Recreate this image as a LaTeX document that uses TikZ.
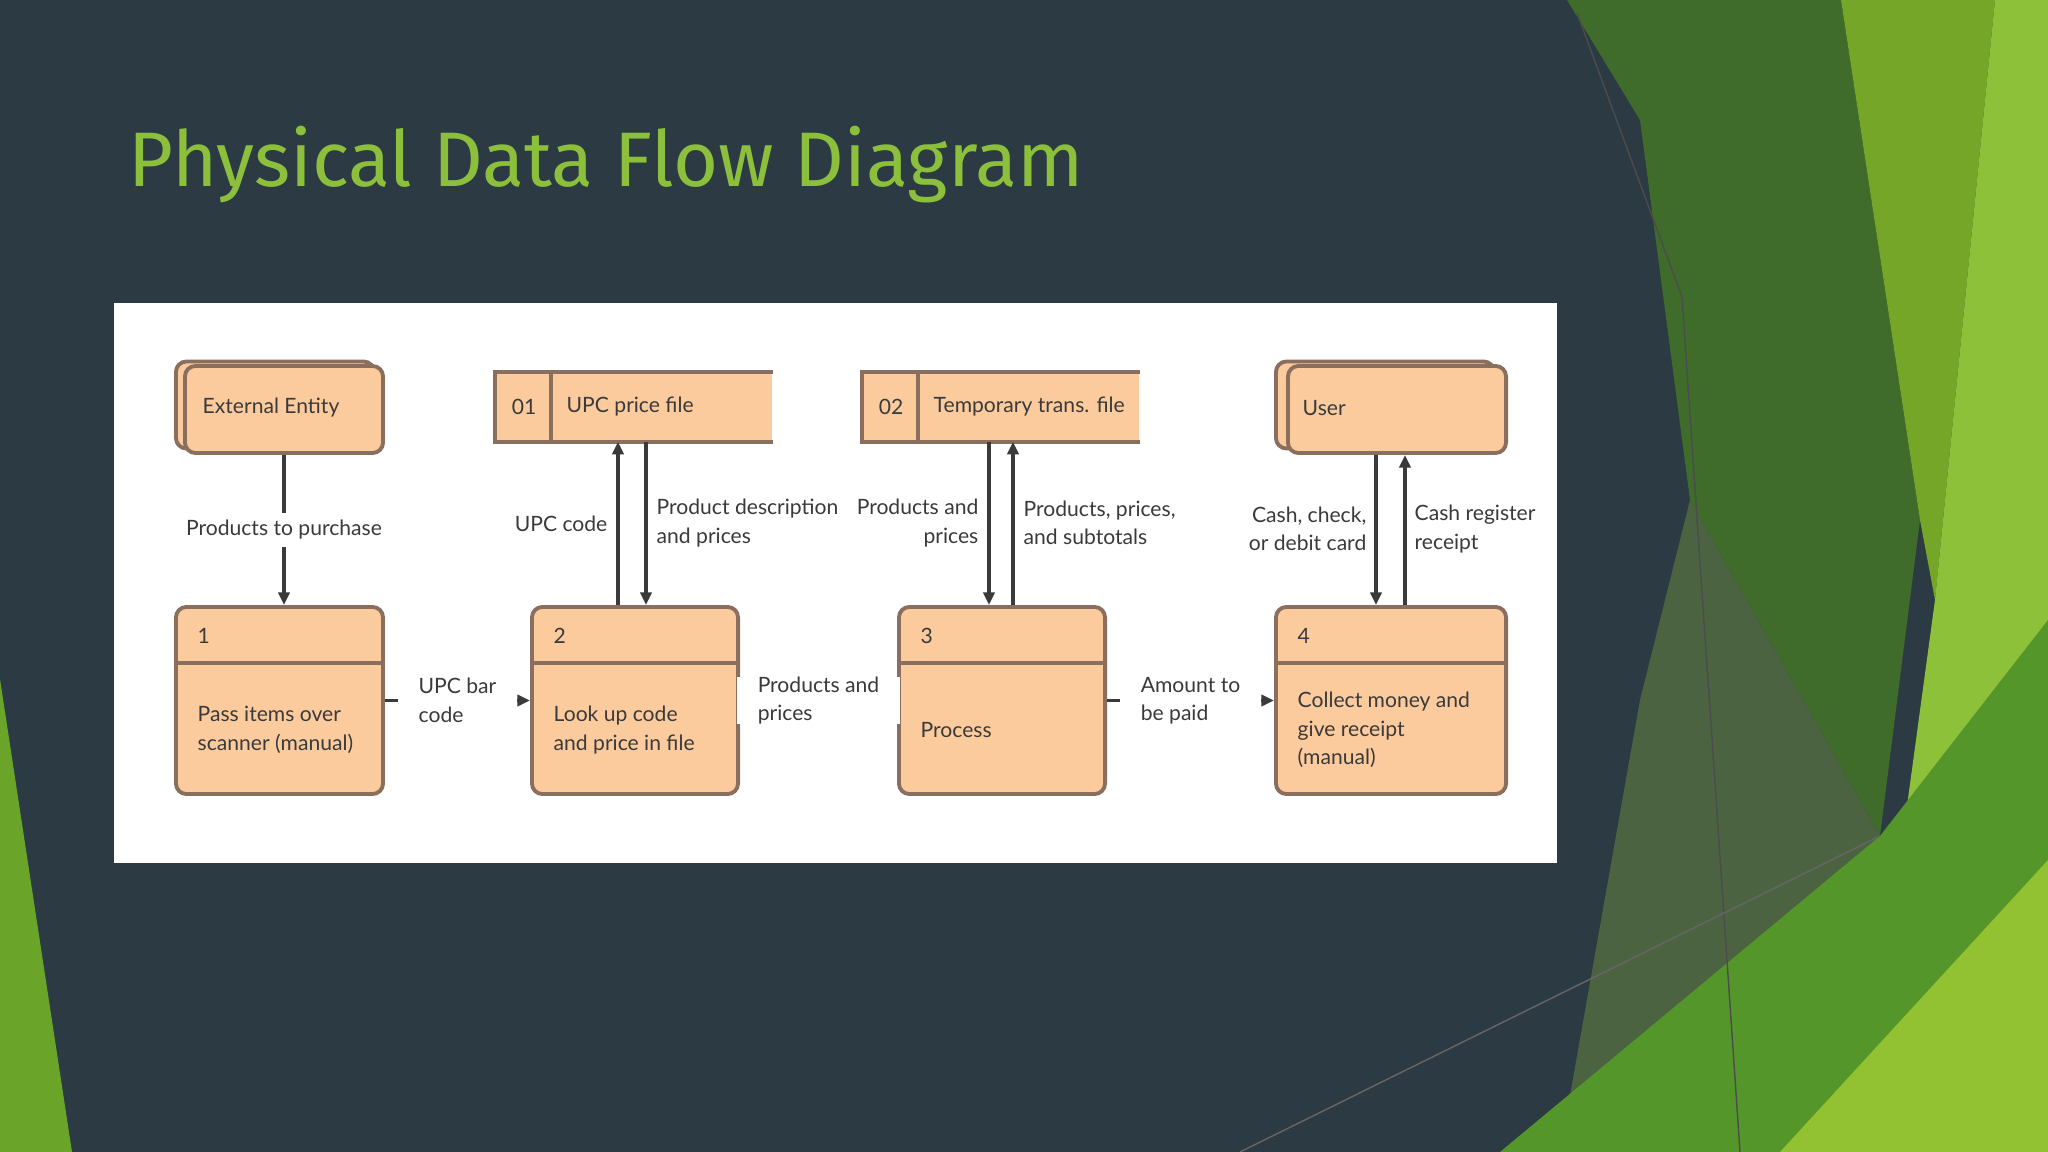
\documentclass[tikz,border=0pt]{standalone}
\usepackage{fontspec}
\setmainfont{Lato}
\newfontfamily\titlefont{Fira Sans}
\usetikzlibrary{calc,arrows.meta}
\definecolor{slate}{HTML}{2B3A43}
\definecolor{peach}{HTML}{FBCB9E}
\definecolor{rim}{HTML}{8A6F5E}
\definecolor{ink}{HTML}{3A3A3A}
\definecolor{titlegreen}{HTML}{8CC03C}
\definecolor{gdark}{HTML}{3F6C2A}
\definecolor{gmid}{HTML}{76A628}
\definecolor{golive}{HTML}{4B6341}
\definecolor{glight}{HTML}{8DC13A}
\definecolor{gbottom}{HTML}{55962A}
\definecolor{gbright}{HTML}{92C232}
\definecolor{gleft}{HTML}{6AA52A}
\tikzset{
  box/.style={draw=rim, fill=peach, line width=1.1pt, rounded corners=3pt, inner sep=0pt},
  txt/.style={text=ink, font=\fontsize{6}{8.1}\selectfont, inner sep=0pt},
  flow/.style={draw=ink, line width=0.9pt, -{Triangle[length=3.6pt,width=3.2pt]}},
}
\begin{document}
\begin{tikzpicture}[x=0.01cm,y=-0.01cm]
		% background
		\fill[slate] (0,0) rectangle (2048,1152);
		\useasboundingbox (0,0) rectangle (2048,1152);
		\fill[gdark] (1567,0) -- (1841,0) -- (1920,520) -- (1880,836) -- (1690,500) -- (1640,120) -- cycle;
		\fill[gmid] (1841,0) -- (1995,0) -- (1935,600) -- (1920,520) -- cycle;
		\fill[golive] (1690,500) -- (1880,836) -- (1760,1000) -- (1560,1152) -- (1640,700) -- cycle;
		\fill[glight] (1995,0) -- (2048,0) -- (2048,1152) -- (1860,1152) -- (1935,600) -- cycle;
		\fill[gbottom] (1500,1152) -- (1880,836) -- (2048,620) -- (2048,900) -- (1800,1152) -- cycle;
		\fill[gbright] (1780,1152) -- (2048,860) -- (2048,1152) -- cycle;
		\fill[gleft] (0,679) -- (72,1152) -- (0,1152) -- cycle;
		\draw[black!70, line width=0.4pt] (1577,13) -- (1682,297) -- (1740,1152);
		\draw[black!60, line width=0.4pt] (1240,1152) -- (1880,836);
		
		% title
		\node[anchor=base west, inner sep=0pt, text=titlegreen, font=\titlefont\fontsize{22}{26}\selectfont] (title) at (128,187) {Physical Data Flow Diagram};
		
		% panel
		\fill[white] (114,303) rectangle (1557,863);
		
		% entities and stores
		\node[box, minimum width=1.98cm, minimum height=0.87cm] (shadow1) at (275,405) {};
		\node[box, minimum width=1.98cm, minimum height=0.87cm] (ent) at (284,409.5) {};
		\node[txt, anchor=west] (entlbl) at (202,408) {External Entity};
		\node[box, minimum width=2.18cm, minimum height=0.87cm] (shadow2) at (1385,405) {};
		\node[box, minimum width=2.18cm, minimum height=0.87cm] (user) at (1397,409.5) {};
		\node[txt, anchor=west] (userlbl) at (1302,408) {User};
		
		\node[fill=peach, minimum width=2.76cm, minimum height=0.68cm, inner sep=0pt] (upc) at (634,407) {};
		\draw[rim, line width=1.1pt] (upc.north east) -- (upc.north west) -- (upc.south west) -- (upc.south east);
		\draw[rim, line width=1.1pt] ($(upc.north west)+(56,0)$) -- ($(upc.south west)+(56,0)$);
		\node[txt] (upcid) at (524,407) {01};
		\node[txt, anchor=west] (upclbl) at (566,407) {UPC price file};
		
		\node[fill=peach, minimum width=2.76cm, minimum height=0.68cm, inner sep=0pt] (tmp) at (1001,407) {};
		\draw[rim, line width=1.1pt] (tmp.north east) -- (tmp.north west) -- (tmp.south west) -- (tmp.south east);
		\draw[rim, line width=1.1pt] ($(tmp.north west)+(56,0)$) -- ($(tmp.south west)+(56,0)$);
		\node[txt] (tmpid) at (891,407) {02};
		\node[txt, anchor=west] (tmplbl) at (933,407) {Temporary trans. file};
		
		% processes
		\foreach \n/\cx/\w in {p1/279.5/2.07, p2/635/2.06, p3/1002/2.06, p4/1391/2.30}{
			\node[box, minimum width=\w cm, minimum height=1.87cm] (\n) at (\cx,700.5) {};
			\draw[rim, line width=1.1pt] ($(\n.north west)+(0,58)$) -- ($(\n.north east)+(0,58)$);
		}
		\node[txt, anchor=west] (n1) at (197,636) {1};
		\node[txt, anchor=west] (n2) at (553,636) {2};
		\node[txt, anchor=west] (n3) at (920,636) {3};
		\node[txt, anchor=west] (n4) at (1297,636) {4};
		\node[txt, anchor=west, align=left] (t1) at (197,730) {Pass items over\\scanner (manual)};
		\node[txt, anchor=west, align=left] (t2) at (553,730) {Look up code\\and price in file};
		\node[txt, anchor=west, align=left] (t3) at (920,730) {Process};
		\node[txt, anchor=west, align=left] (t4) at (1297,730) {Collect money and\\give receipt\\(manual)};
		
		% vertical flows
		\draw[flow] (ent.south) -- node[txt, fill=white, inner ysep=2pt] (f1) {Products to purchase} (p1.north -| ent.south);
		
		\coordinate (a2) at ($(p2.north)+(-17,0)$);
		\coordinate (b2) at ($(p2.north)+(11,0)$);
		\draw[flow] (a2) -- (upc.south -| a2);
		\draw[flow] (upc.south -| b2) -- (b2);
		\node[txt, anchor=east] (f2) at (608,524) {UPC code};
		\node[txt, anchor=west, align=left] (f3) at (656,523) {Product description\\and prices};
		
		\coordinate (a3) at ($(p3.north)+(-13,0)$);
		\coordinate (b3) at ($(p3.north)+(11,0)$);
		\draw[flow] (tmp.south -| a3) -- (a3);
		\draw[flow] (b3) -- (tmp.south -| b3);
		\node[txt, anchor=east, align=right] (f4) at (979,523) {Products and\\prices};
		\node[txt, anchor=west, align=left] (f5) at (1023,523) {Products, prices,\\and subtotals};
		
		\coordinate (a4) at ($(p4.north)+(-15,0)$);
		\coordinate (b4) at ($(p4.north)+(14,0)$);
		\draw[flow] (user.south -| a4) -- (a4);
		\draw[flow] (b4) -- (user.south -| b4);
		\node[txt, anchor=east, align=right] (f6) at (1367,529) {Cash, check,\\or debit card};
		\node[txt, anchor=west, align=left] (f7) at (1414,529) {Cash register\\receipt};
		
		% horizontal flows
		\draw[flow] (p1) -- node[txt, fill=white, align=left, inner xsep=6pt] (f8) {UPC bar\\code} (p2);
		\draw[flow] (p2) -- node[txt, fill=white, align=left, inner xsep=6pt] (f9) {Products and\\prices} (p3);
		\draw[flow] (p3) -- node[txt, fill=white, align=left, inner xsep=6pt] (f10) {Amount to\\be paid} (p4);
		
	\end{tikzpicture}
\end{document}
